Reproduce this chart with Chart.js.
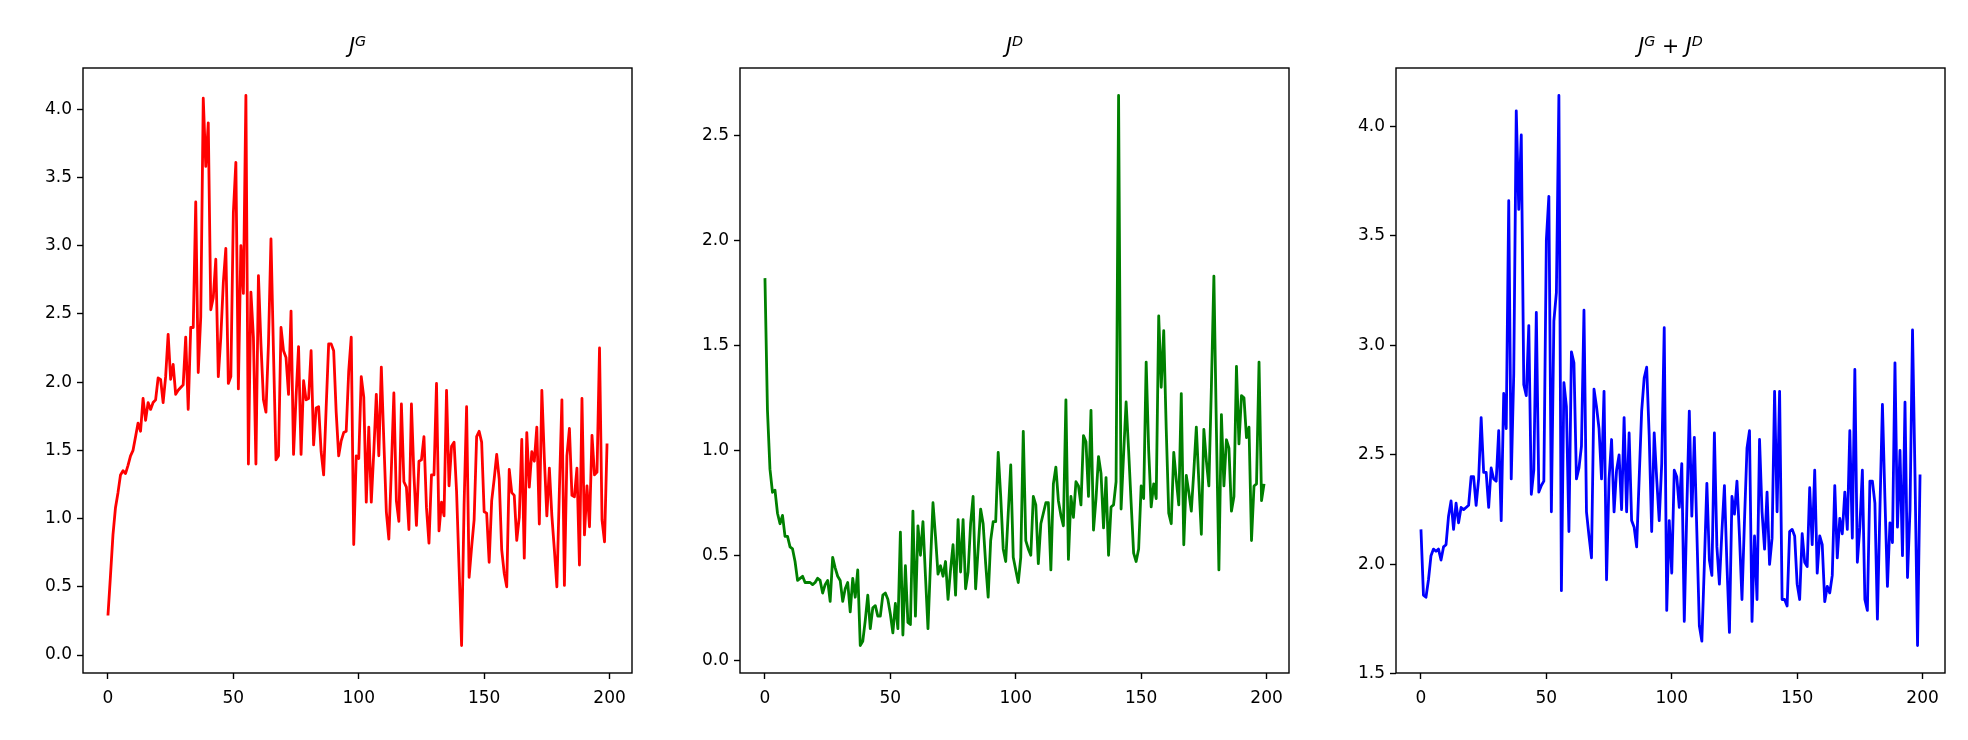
<!DOCTYPE html>
<html>
<head>
<meta charset="utf-8">
<title>J^G, J^D, J^G + J^D</title>
<script src="https://cdn.jsdelivr.net/npm/chart.js@4.4.1/dist/chart.umd.min.js"></script>
<style>
    body { margin: 0; background: #fff; width: 1968px; height: 740px; overflow: hidden; position: relative; }
    canvas { position: absolute; top: 0; }
    .ttl { position: absolute; top: 36px; width: 549px; text-align: center; font-family: 'DejaVu Sans'; font-size: 20.5px; line-height: 21px; color: #000; white-space: nowrap; }
    .ttl sup { font-size: 70%; position: relative; top: -0.5em; vertical-align: baseline; }
</style>
</head>
<body>
<canvas id="chartG" width="631" height="740"></canvas>
<canvas id="chartD" width="631" height="740"></canvas>
<canvas id="chartSum" width="631" height="740"></canvas>
<div class="ttl" id="titleG"><i>J</i><sup><i>G</i></sup></div>
<div class="ttl" id="titleD"><i>J</i><sup><i>D</i></sup></div>
<div class="ttl" id="titleSum"><i>J</i><sup><i>G</i></sup> + <i>J</i><sup><i>D</i></sup></div>
<script>
// iteration index 0..199 (x axis)
const steps = Array.from({ length: 200 }, (_, i) => i);

// J^G (red)
const lossG = [
    0.29, 0.58, 0.88, 1.08, 1.19, 1.32, 1.35, 1.33, 1.39, 1.46,
    1.50, 1.60, 1.70, 1.64, 1.88, 1.72, 1.85, 1.80, 1.85, 1.87,
    2.03, 2.02, 1.85, 2.04, 2.35, 2.02, 2.13, 1.91, 1.94, 1.96,
    1.98, 2.33, 1.80, 2.40, 2.40, 3.32, 2.07, 2.48, 4.08, 3.58,
    3.90, 2.53, 2.62, 2.90, 2.04, 2.33, 2.73, 2.98, 1.99, 2.04,
    3.24, 3.61, 1.95, 3.00, 2.65, 4.10, 1.40, 2.66, 2.33, 1.40,
    2.78, 2.28, 1.87, 1.78, 2.28, 3.05, 2.22, 1.43, 1.46, 2.40,
    2.23, 2.18, 1.91, 2.52, 1.47, 1.89, 2.26, 1.47, 2.01, 1.87,
    1.88, 2.23, 1.54, 1.81, 1.82, 1.49, 1.32, 1.81, 2.28, 2.28,
    2.23, 1.78, 1.46, 1.57, 1.63, 1.64, 2.08, 2.33, 0.81, 1.46,
    1.44, 2.04, 1.89, 1.12, 1.67, 1.12, 1.49, 1.91, 1.46, 2.11,
    1.57, 1.05, 0.85, 1.36, 1.92, 1.13, 0.98, 1.84, 1.27, 1.23,
    0.92, 1.84, 1.32, 0.95, 1.42, 1.43, 1.60, 1.08, 0.82, 1.32,
    1.32, 1.99, 0.91, 1.12, 1.02, 1.94, 1.24, 1.53, 1.56, 1.20,
    0.64, 0.07, 1.10, 1.82, 0.57, 0.79, 0.99, 1.60, 1.64, 1.56,
    1.05, 1.04, 0.68, 1.13, 1.29, 1.47, 1.29, 0.77, 0.60, 0.50,
    1.36, 1.19, 1.17, 0.84, 1.01, 1.58, 0.71, 1.63, 1.23, 1.49,
    1.42, 1.67, 0.96, 1.94, 1.44, 1.02, 1.37, 1.02, 0.77, 0.50,
    1.21, 1.87, 0.51, 1.46, 1.66, 1.17, 1.16, 1.37, 0.66, 1.88,
    0.88, 1.24, 0.94, 1.61, 1.32, 1.34, 2.25, 0.99, 0.83, 1.55
];

// J^D (green)
const lossD = [
    1.82, 1.19, 0.91, 0.80, 0.81, 0.70, 0.65, 0.69, 0.59, 0.59,
    0.54, 0.53, 0.47, 0.38, 0.39, 0.40, 0.37, 0.37, 0.37, 0.36,
    0.37, 0.39, 0.38, 0.32, 0.36, 0.38, 0.28, 0.49, 0.44, 0.40,
    0.38, 0.28, 0.34, 0.37, 0.23, 0.39, 0.30, 0.43, 0.07, 0.09,
    0.19, 0.31, 0.15, 0.25, 0.26, 0.21, 0.21, 0.31, 0.32, 0.29,
    0.22, 0.13, 0.27, 0.15, 0.61, 0.12, 0.45, 0.18, 0.17, 0.71,
    0.21, 0.64, 0.50, 0.66, 0.40, 0.15, 0.46, 0.75, 0.59, 0.41,
    0.45, 0.40, 0.47, 0.29, 0.43, 0.55, 0.31, 0.67, 0.42, 0.67,
    0.34, 0.42, 0.65, 0.78, 0.34, 0.53, 0.72, 0.65, 0.46, 0.30,
    0.57, 0.66, 0.66, 0.99, 0.78, 0.53, 0.47, 0.70, 0.93, 0.49,
    0.43, 0.37, 0.49, 1.09, 0.57, 0.53, 0.50, 0.78, 0.74, 0.46,
    0.65, 0.70, 0.75, 0.75, 0.43, 0.84, 0.92, 0.76, 0.69, 0.64,
    1.24, 0.48, 0.78, 0.68, 0.85, 0.83, 0.74, 1.07, 1.04, 0.78,
    1.19, 0.62, 0.77, 0.97, 0.89, 0.63, 0.87, 0.50, 0.73, 0.74,
    0.85, 2.69, 0.72, 0.98, 1.23, 1.00, 0.75, 0.51, 0.47, 0.53,
    0.83, 0.77, 1.42, 1.00, 0.73, 0.84, 0.77, 1.64, 1.30, 1.57,
    1.10, 0.70, 0.65, 0.99, 0.86, 0.74, 1.27, 0.55, 0.88, 0.80,
    0.71, 0.90, 1.11, 0.85, 0.60, 1.10, 0.95, 0.83, 1.30, 1.83,
    1.10, 0.43, 1.17, 0.83, 1.05, 1.01, 0.71, 0.78, 1.40, 1.03,
    1.26, 1.25, 1.06, 1.11, 0.57, 0.83, 0.84, 1.42, 0.76, 0.84
];

// J^G + J^D (blue)
const lossSum = [
    2.16, 1.86, 1.85, 1.93, 2.04, 2.07, 2.06, 2.07, 2.02, 2.08,
    2.09, 2.22, 2.29, 2.16, 2.28, 2.19, 2.26, 2.25, 2.26, 2.27,
    2.40, 2.40, 2.27, 2.39, 2.67, 2.42, 2.42, 2.26, 2.44, 2.39,
    2.38, 2.61, 2.20, 2.78, 2.62, 3.66, 2.39, 2.87, 4.07, 3.62,
    3.96, 2.82, 2.77, 3.09, 2.32, 2.43, 3.15, 2.33, 2.36, 2.38,
    3.48, 3.68, 2.24, 3.11, 3.24, 4.14, 1.88, 2.83, 2.72, 2.15,
    2.97, 2.92, 2.39, 2.44, 2.54, 3.16, 2.24, 2.13, 2.03, 2.80,
    2.72, 2.62, 2.39, 2.79, 1.93, 2.39, 2.57, 2.24, 2.43, 2.50,
    2.25, 2.67, 2.24, 2.60, 2.20, 2.17, 2.08, 2.39, 2.70, 2.85,
    2.90, 2.59, 2.15, 2.60, 2.39, 2.20, 2.46, 3.08, 1.79, 2.20,
    1.96, 2.43, 2.40, 2.26, 2.46, 1.74, 2.25, 2.70, 2.22, 2.58,
    2.15, 1.72, 1.65, 2.00, 2.37, 2.02, 1.95, 2.60, 2.08, 1.91,
    2.15, 2.36, 2.00, 1.69, 2.31, 2.23, 2.38, 2.13, 1.84, 2.20,
    2.53, 2.61, 1.74, 2.13, 1.84, 2.57, 2.24, 2.07, 2.33, 2.00,
    2.12, 2.79, 2.24, 2.79, 1.84, 1.84, 1.81, 2.15, 2.16, 2.13,
    1.91, 1.84, 2.14, 2.01, 1.99, 2.35, 2.09, 2.43, 1.96, 2.13,
    2.09, 1.83, 1.90, 1.87, 1.95, 2.36, 2.03, 2.21, 2.14, 2.33,
    2.16, 2.61, 2.12, 2.89, 2.01, 2.17, 2.43, 1.84, 1.79, 2.38,
    2.38, 2.28, 1.75, 2.25, 2.73, 2.30, 1.90, 2.19, 2.10, 2.92,
    2.17, 2.52, 2.04, 2.74, 1.94, 2.25, 3.07, 2.40, 1.63, 2.41
];

// tick labels
const xTicks = [0, 50, 100, 150, 200];
const yTicksG = [0.0, 0.5, 1.0, 1.5, 2.0, 2.5, 3.0, 3.5, 4.0];
const yTicksD = [0.0, 0.5, 1.0, 1.5, 2.0, 2.5];
const yTicksSum = [1.5, 2.0, 2.5, 3.0, 3.5, 4.0];

document.addEventListener("DOMContentLoaded", function() {
    // plot-area geometry (pixels in the 1968x740 page)
    const areaLefts = [83, 740, 1396];
    const areaTop = 68;
    const areaBottom = 673;
    const yAxisWidth = 70;
    const tickFont = { family: 'DejaVu Sans', size: 17 };

    // matplotlib-like box around the axes
    const boxPlugin = {
        id: 'box',
        afterDraw(chart) {
            const a = chart.chartArea;
            const c = chart.ctx;
            c.save();
            c.strokeStyle = '#000';
            c.lineWidth = 1.4;
            c.strokeRect(a.left, a.top, a.right - a.left, a.bottom - a.top);
            c.restore();
        }
    };

    function makeChart(id, titleId, values, color, yTicks, pos) {
        const canvas = document.getElementById(id);
        canvas.style.left = (areaLefts[pos] - yAxisWidth) + 'px';
        const title = document.getElementById(titleId);
        title.style.left = areaLefts[pos] + 'px';

        // autoscale like matplotlib: 5% margin on both axes
        const lo = Math.min(...values), hi = Math.max(...values);
        const pad = (hi - lo) * 0.05;
        const xPad = (steps[steps.length - 1] - steps[0]) * 0.05;

        return new Chart(canvas.getContext('2d'), {
            type: 'line',
            data: {
                datasets: [{
                    data: values.map((v, i) => ({ x: steps[i], y: v })),
                    borderColor: color,
                    borderWidth: 2.8,
                    borderJoinStyle: 'round',
                    pointRadius: 0,
                    tension: 0,
                    fill: false
                }]
            },
            options: {
                responsive: false,
                animation: false,
                devicePixelRatio: 1,
                layout: { padding: { top: areaTop, right: 12, bottom: 0, left: 0 } },
                plugins: { legend: { display: false }, tooltip: { enabled: false } },
                scales: {
                    x: {
                        type: 'linear',
                        min: steps[0] - xPad,
                        max: steps[steps.length - 1] + xPad,
                        afterBuildTicks: scale => { scale.ticks = xTicks.map(v => ({ value: v })); },
                        afterFit: scale => { scale.height = 740 - areaBottom; },
                        ticks: { font: tickFont, color: '#000', padding: 9, maxRotation: 0, autoSkip: false,
                                 callback: v => String(v) },
                        grid: { drawOnChartArea: false, drawTicks: true, tickLength: 6, tickWidth: 1.4, tickColor: '#000' },
                        border: { display: false }
                    },
                    y: {
                        type: 'linear',
                        min: lo - pad,
                        max: hi + pad,
                        afterBuildTicks: scale => { scale.ticks = yTicks.map(v => ({ value: v })); },
                        afterFit: scale => { scale.width = yAxisWidth; },
                        ticks: { font: tickFont, color: '#000', padding: 5, autoSkip: false,
                                 callback: v => v.toFixed(1) },
                        grid: { drawOnChartArea: false, drawTicks: true, tickLength: 6, tickWidth: 1.4, tickColor: '#000' },
                        border: { display: false }
                    }
                }
            },
            plugins: [boxPlugin]
        });
    }

    makeChart('chartG', 'titleG', lossG, '#ff0000', yTicksG, 0);
    makeChart('chartD', 'titleD', lossD, '#008000', yTicksD, 1);
    makeChart('chartSum', 'titleSum', lossSum, '#0000ff', yTicksSum, 2);
});
</script>
</body>
</html>
